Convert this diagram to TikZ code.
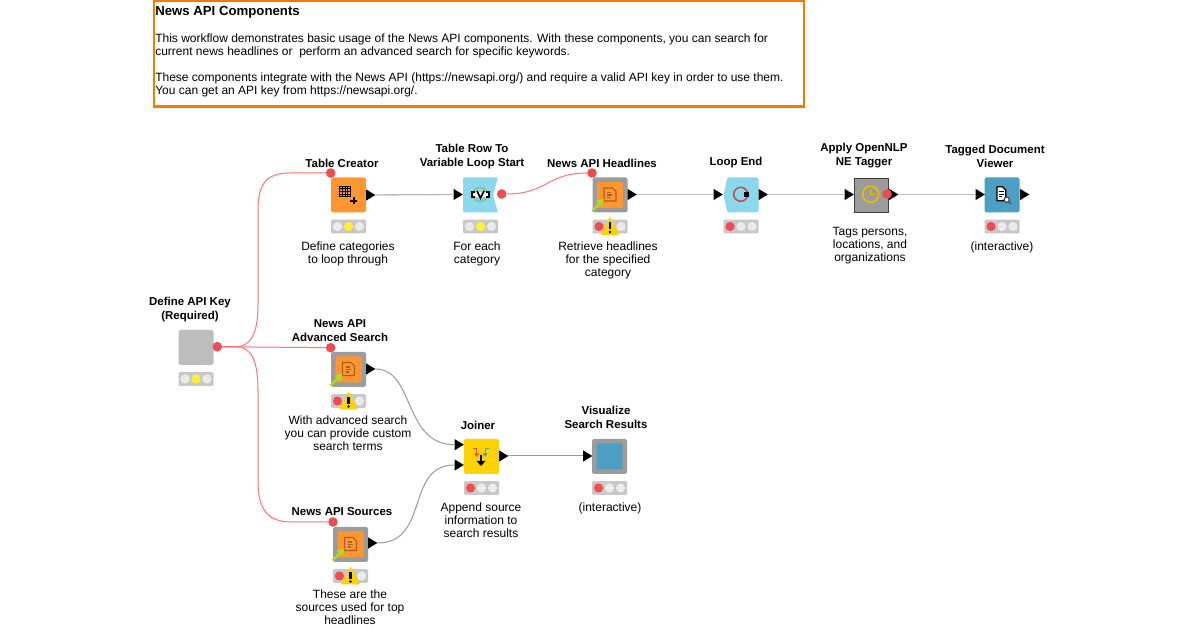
\documentclass[tikz,border=0pt]{standalone}
\usepackage{fontspec}
\setmainfont{Liberation Sans}
\usetikzlibrary{shapes.geometric}
\definecolor{kborder}{HTML}{F57A00}
\definecolor{korange}{HTML}{FF962F}
\definecolor{kcyan}{HTML}{8AD8EC}
\definecolor{kblue}{HTML}{4A9FC2}
\definecolor{kyellow}{HTML}{FFD200}
\definecolor{kgray}{HTML}{9C9C9C}
\definecolor{kpale}{HTML}{BDBDBD}
\definecolor{kred}{HTML}{F04B53}
\definecolor{kline}{HTML}{FF7474}
\definecolor{kwire}{HTML}{BBBBBB}
\definecolor{klamp}{HTML}{FFF331}
\definecolor{koff}{HTML}{EBEBEB}
\definecolor{ktray}{HTML}{C8C8C8}
\definecolor{kdoc}{HTML}{A95F22}
\definecolor{kgreen}{HTML}{B0DC1C}
\definecolor{kloop}{HTML}{7FC58C}
\tikzset{
  kbox/.style={rectangle,inner sep=0pt,outer sep=0pt,minimum size=26.25pt,rounded corners=1.2pt},
  kport/.style={isosceles triangle,isosceles triangle stretches,fill=black,inner sep=0pt,outer sep=0pt,
    minimum height=7pt,minimum width=8.5pt,anchor=lower side},
  kdot/.style={circle,fill=kred,inner sep=0pt,outer sep=0pt,minimum size=7.2pt},
  kname/.style={font=\fontsize{8.6pt}{10.5pt}\selectfont\bfseries,align=center,inner sep=0pt},
  kdesc/.style={font=\fontsize{9pt}{9.75pt}\selectfont,align=center,inner sep=0pt},
  kwiring/.style={draw=kwire,line width=1pt},
  kcurve/.style={draw=black!40,line width=0.75pt},
  kvar/.style={draw=kline,line width=0.75pt}
}
\begin{document}
\begin{tikzpicture}[x=0.75pt,y=-0.75pt]
  \useasboundingbox (0,0) rectangle (1200,630);
  \fill[white] (0,0) rectangle (1200,630);

  % note at the top
  \node[draw=kborder,line width=1.9pt,inner sep=0pt,minimum width=487.5pt,minimum height=79.5pt] (note) at (479,53.5) {};
  \node[font=\fontsize{9.9pt}{12pt}\selectfont\bfseries,inner sep=0pt,anchor=west] (notetitle) at (155,12.5) {News API Components};
  \node[font=\fontsize{9pt}{9.75pt}\selectfont,align=left,inner sep=0pt,anchor=north west] (notetext) at (155,34)
    {This workflow demonstrates basic usage of the News API components. With these components, you can search for\\
     current news headlines or\ \ perform an advanced search for specific keywords.\\[9.75pt]
     These components integrate with the News API (https://newsapi.org/) and require a valid API key in order to use them.\\
     You can get an API key from https://newsapi.org/.};

  % special outlines
  \fill[kcyan,rounded corners=1pt] (463,177.5) -- (498,177.5) -- (493,195) -- (498,212.5) -- (463,212.5) -- cycle;
  \fill[kcyan,rounded corners=1pt] (727.5,177.5) -- (758.5,177.5) -- (758.5,212.5) -- (727.5,212.5) -- (723.5,195) -- cycle;

  % nodes
  \node[kbox,fill=korange] (tc) at (348.5,195) {};
  \node[kbox] (rv) at (480.5,195) {};
  \node[kbox,fill=kgray] (hl) at (610,195) {};
  \node[kbox] (le) at (741,195) {};
  \node[kbox,fill=kgray,draw=black!75,line width=0.6pt,minimum size=25.6pt,rounded corners=0pt] (ne) at (871.5,195) {};
  \node[kbox,fill=kblue] (tv) at (1002,195) {};
  \node[kbox,fill=kpale] (key) at (196,347.5) {};
  \node[kbox,fill=kgray] (adv) at (348.5,369.5) {};
  \node[kbox,fill=kgray] (src) at (350.5,544.5) {};
  \node[kbox,fill=kyellow] (jn) at (481.5,456.5) {};
  \node[kbox,fill=kgray] (viz) at (609.5,456.5) {};

  % ports
  \node[kport] (tcout) at (366,195) {};
  \node[kport] (rvin) at (453.5,194.5) {};
  \node[kport] (hlout) at (627.5,194.5) {};
  \node[kport] (lein) at (713.5,194.5) {};
  \node[kport] (leout) at (758.5,194.5) {};
  \node[kport] (nein) at (844.5,194.5) {};
  \node[kport] (neout) at (889,194.5) {};
  \node[kport] (tvin) at (975.5,194.5) {};
  \node[kport] (tvout) at (1020,194.5) {};
  \node[kport] (advout) at (366,369) {};
  \node[kport] (srcout) at (368,543) {};
  \node[kport] (jnina) at (454.5,444.7) {};
  \node[kport] (jninb) at (454.5,465) {};
  \node[kport] (jnout) at (499,456) {};
  \node[kport] (vizin) at (583,456) {};

  % flow variable dots
  \node[kdot] (keyvar) at (217.3,346.7) {};
  \node[kdot] (tcvar) at (330.7,173) {};
  \node[kdot] (advvar) at (330.7,347.7) {};
  \node[kdot] (srcvar) at (333,522) {};
  \node[kdot] (rvvar) at (501.7,194) {};
  \node[kdot] (hlvar) at (592,173) {};
  \node[kdot] (nevar) at (887,194) {};

  % connectors
  \draw[kwiring] (tcout) -- (rvin);
  \draw[kwiring] (hlout) -- (lein);
  \draw[kwiring] (leout) -- (nein);
  \draw[kwiring] (neout) -- (tvin);
  \draw[kcurve] (jnout) -- (vizin);
  \draw[kcurve] (advout) .. controls (415,369) and (403,444.7) .. (jnina);
  \draw[kcurve] (srcout) .. controls (430,543) and (405,465) .. (jninb);
  \draw[kvar] (keyvar) -- (236,346.7) .. controls (250,346.5) and (258,335) .. (258,305)
    -- (258,210) .. controls (258,184) and (266,173) .. (290,173) -- (tcvar);
  \draw[kvar] (keyvar) -- (236,346.7) .. controls (250,347) and (258,358) .. (258,390)
    -- (258,480) .. controls (258,508) and (266,522) .. (292,522) -- (srcvar);
  \draw[kvar] (keyvar) -- (advvar);
  \draw[kvar] (rvvar) .. controls (547,194) and (547,173) .. (hlvar);

  % traffic lights
  \foreach \x/\y/\a/\b/\c in {348.5/226.5/koff/klamp/koff,480.5/226.5/koff/klamp/koff,610/226.5/kred/koff/koff,
      741/226.5/kred/koff/koff,1002/226.5/kred/koff/koff,196/379/koff/klamp/koff,348.5/401/kred/koff/koff,
      350.5/576/kred/koff/koff,481.5/488/kred/koff/koff,609.5/488/kred/koff/koff}{
    \fill[ktray,rounded corners=0.8pt] (\x-17.5,\y-6.8) rectangle (\x+17.5,\y+6.8);
    \fill[\a] (\x-11,\y) circle[radius=4.6];
    \fill[\b] (\x,\y) circle[radius=4.6];
    \fill[\c] (\x+11,\y) circle[radius=4.6];
  }

  % component icon, arrow and warning sign
  \foreach \x/\y in {610/195,348.5/369.5,350.5/544.5}{
    \fill[korange,rounded corners=0.8pt] (\x-13,\y-13) rectangle (\x+13,\y+13);
    \draw[kdoc,line width=0.8pt] (\x-6,\y-7) -- (\x+2.5,\y-7) -- (\x+6,\y-3.5) -- (\x+6,\y+6) -- (\x-6,\y+6) -- cycle;
    \draw[kdoc,line width=0.8pt] (\x-3,\y-2.5) -- (\x+1,\y-2.5) (\x-3,\y) -- (\x+2,\y) (\x-3,\y+2.5) -- (\x,\y+2.5);
    \draw[kgreen,line width=1.6pt] (\x-18,\y+16) -- (\x-10,\y+8);
    \fill[kgreen] (\x-6,\y+4) -- (\x-14,\y+6) -- (\x-8,\y+12) -- cycle;
  }
  \foreach \x/\y in {610/195,348.5/369.5,350.5/544.5}{
    \fill[kyellow,rounded corners=0.4pt] (\x,\y+22) -- (\x+9.5,\y+40) -- (\x-9.5,\y+40) -- cycle;
    \fill[black] (\x-1.2,\y+27.5) rectangle (\x+1.2,\y+34.5);
    \fill[black] (\x,\y+37) circle[radius=1.3];
  }

  % table creator icon
  \foreach \k in {0,1,2,3,4}{
    \draw[black,line width=0.55pt] (339.7+2.65*\k,186) -- (339.7+2.65*\k,196.6);
    \draw[black,line width=0.55pt] (339.7,186+2.65*\k) -- (350.3,186+2.65*\k);
  }
  \draw[black,line width=1.3pt] (350,200.7) -- (357.4,200.7) (353.7,197) -- (353.7,204.4);

  % loop start icon
  \draw[kloop,line width=1.3pt] (480,194.5) circle[radius=7];
  \fill[white] (472.5,192) rectangle (488.5,197);
  \draw[black,line width=0.8pt] (475,192) -- (472,192) -- (472,197) -- (475,197) (486,192) -- (489,192) -- (489,197) -- (486,197);
  \draw[black,line width=1.2pt] (477,191) -- (480.5,198) -- (484,191);

  % loop end icon
  \draw[kred!85!black,line width=1.1pt] (740.7,194.3) circle[radius=7];
  \fill[black] (744.2,192) rectangle (749.2,197);

  % tagger icon
  \draw[kyellow!92!black,line width=1.1pt] (870.7,194.3) circle[radius=8];
  \draw[kyellow!92!black,line width=0.9pt] (870.7,189) -- (870.7,194.8) -- (875,194.8);

  % viewer icon
  \draw[black,fill=white,line width=0.9pt] (997,186.7) -- (1002.5,186.7) -- (1005.7,190) -- (1005.7,200.7) -- (997,200.7) -- cycle;
  \draw[black,line width=0.7pt] (998.8,191.5) -- (1003.8,191.5) (998.8,194) -- (1003.8,194) (998.8,196.5) -- (1002,196.5);
  \draw[black!70,fill=white,line width=0.9pt] (1006.7,199.7) circle[radius=2.6];
  \draw[black!70,line width=1pt] (1008.5,201.5) -- (1011,204);

  % joiner icon
  \draw[kred,line width=0.7pt] (472.7,448.3) -- (476.7,448.3) -- (476.7,454);
  \fill[kred] (474.2,453.5) -- (479.2,453.5) -- (476.7,457) -- cycle;
  \draw[kblue,line width=0.7pt] (489,448.3) -- (485,448.3) -- (485,454);
  \fill[kblue] (482.5,453.5) -- (487.5,453.5) -- (485,457) -- cycle;
  \draw[black,line width=1.1pt] (481,455) -- (481,462);
  \fill[black] (476.5,461) -- (485.5,461) -- (481,466) -- cycle;

  % view inner square
  \fill[kblue,rounded corners=0.8pt] (596.5,443.5) rectangle (622.5,469.5);

  % node names
  \node[kname] (keyname) at (190,310) {Define API Key\\(Required)};
  \node[kname] (tcname) at (342,163) {Table Creator};
  \node[kname] (rvname) at (472,157) {Table Row To\\Variable Loop Start};
  \node[kname] (hlname) at (602,163) {News API Headlines};
  \node[kname] (lename) at (736,163) {Loop End};
  \node[kname] (nename) at (864,156) {Apply OpenNLP\\NE Tagger};
  \node[kname] (tvname) at (995,156) {Tagged Document\\Viewer};
  \node[kname] (advname) at (340,331) {News API\\Advanced Search};
  \node[kname] (jnname) at (478,425) {Joiner};
  \node[kname] (vizname) at (606,417) {Visualize\\Search Results};
  \node[kname] (srcname) at (342,512) {News API Sources};

  % node descriptions
  \node[kdesc] (tcdesc) at (348,254) {Define categories\\to loop through};
  \node[kdesc] (rvdesc) at (477,254) {For each\\category};
  \node[kdesc] (hldesc) at (608,260) {Retrieve headlines\\for the specified\\category};
  \node[kdesc] (nedesc) at (870,246) {Tags persons,\\locations, and\\organizations};
  \node[kdesc] (tvdesc) at (1002,247) {(interactive)};
  \node[kdesc] (advdesc) at (348,433) {With advanced search\\you can provide custom\\search terms};
  \node[kdesc] (jndesc) at (481,520) {Append source\\information to\\search results};
  \node[kdesc] (vizdesc) at (610,508) {(interactive)};
  \node[kdesc] (srcdesc) at (350,607.5) {These are the\\sources used for top\\headlines};
\end{tikzpicture}
\end{document}
